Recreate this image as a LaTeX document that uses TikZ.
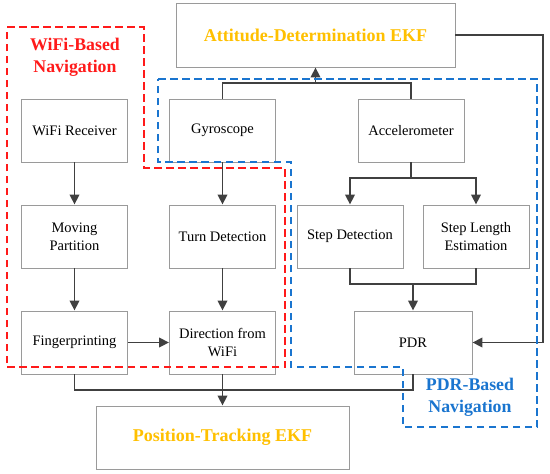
\documentclass[tikz,border=0pt]{standalone}
\usepackage{fontspec}
\setmainfont{Liberation Serif}
\usetikzlibrary{arrows.meta}
\definecolor{conn}{HTML}{404040}
\definecolor{boxc}{HTML}{9A9A9A}
\definecolor{ekf}{HTML}{FFC000}
\definecolor{wred}{HTML}{FF1A1A}
\definecolor{pblue}{HTML}{1A75CF}
\tikzset{
  blk/.style={draw=boxc, line width=0.9pt, fill=white, minimum width=106pt, minimum height=63pt, align=center, inner sep=0pt, font=\fontsize{14.5}{18}\selectfont},
  ekfbox/.style={blk, font=\fontsize{18}{21}\selectfont\bfseries, text=ekf},
  conline/.style={draw=conn, line width=1.8pt},
  arr/.style={conline, -{Triangle[length=10pt,width=9.5pt]}},
  zone/.style={line width=1.8pt, dash pattern=on 7.5pt off 4.5pt},
  ztitle/.style={font=\fontsize{17.8}{22}\selectfont\bfseries, align=center}
}
\begin{document}
\begin{tikzpicture}[x=1pt,y=-1pt]
\useasboundingbox (0,0) rectangle (550,474);
% boxes
\node[ekfbox, minimum width=279pt, minimum height=64pt] (att) at (315.5,35) {Attitude-Determination EKF};
\node[blk] (wifi) at (74.5,130.5) {WiFi Receiver};
\node[blk] (gyro) at (222.5,130.5) {Gyroscope};
\node[blk] (acc) at (411,130.5) {Accelerometer};
\node[blk] (mov) at (74.5,236.5) {Moving\\Partition};
\node[blk] (turn) at (222.5,236.5) {Turn Detection};
\node[blk] (stepd) at (350,236.5) {Step Detection};
\node[blk] (stepl) at (476,236.5) {Step Length\\Estimation};
\node[blk] (fing) at (74.5,342.5) {Fingerprinting};
\node[blk] (dir) at (222.5,342.5) {Direction from\\WiFi};
\node[blk, minimum width=118pt] (pdr) at (413,342.5) {PDR};
\node[ekfbox, minimum width=253pt, minimum height=63pt] (pos) at (222.5,437.5) {Position-Tracking EKF};
% junction coordinates
\coordinate (j1) at (315.5,83);
\coordinate (r1) at (543,35);
\coordinate (j2) at (411,178);
\coordinate (j3) at (413,284);
\coordinate (j4) at (222.5,390);
% connectors
\draw[conline] (gyro.north) |- (j1) -| (acc.north);
\draw[arr] (j1) -- (att.south);
\draw[arr] (att.east) -- (r1) |- (pdr.east);
\draw[arr] (wifi) -- (mov);
\draw[arr] (mov) -- (fing);
\draw[arr] (gyro) -- (turn);
\draw[arr] (turn) -- (dir);
\draw[arr] (fing) -- (dir);
\draw[conline] (acc.south) -- (j2);
\draw[arr] (j2) -| (stepd.north);
\draw[arr] (j2) -| (stepl.north);
\draw[conline] (stepd.south) |- (j3) -| (stepl.south);
\draw[arr] (j3) -- (pdr.north);
\draw[conline] (fing.south) |- (j4) -| (pdr.south);
\draw[arr] (dir.south) -- (pos.north);
% zones
\draw[zone, draw=wred] (7,27) -- (144,27) -- (144,168) -- (285,168) -- (285,367) -- (7,367) -- cycle;
\draw[zone, draw=pblue] (158,79) -- (537,79) -- (537,427) -- (403,427) -- (403,367) -- (291,367) -- (291,162) -- (158,162) -- cycle;
\node[ztitle, text=wred] (wtitle) at (75,57) {WiFi-Based\\Navigation};
\node[ztitle, text=pblue] (ptitle) at (470,397) {PDR-Based\\Navigation};
\end{tikzpicture}
\end{document}
